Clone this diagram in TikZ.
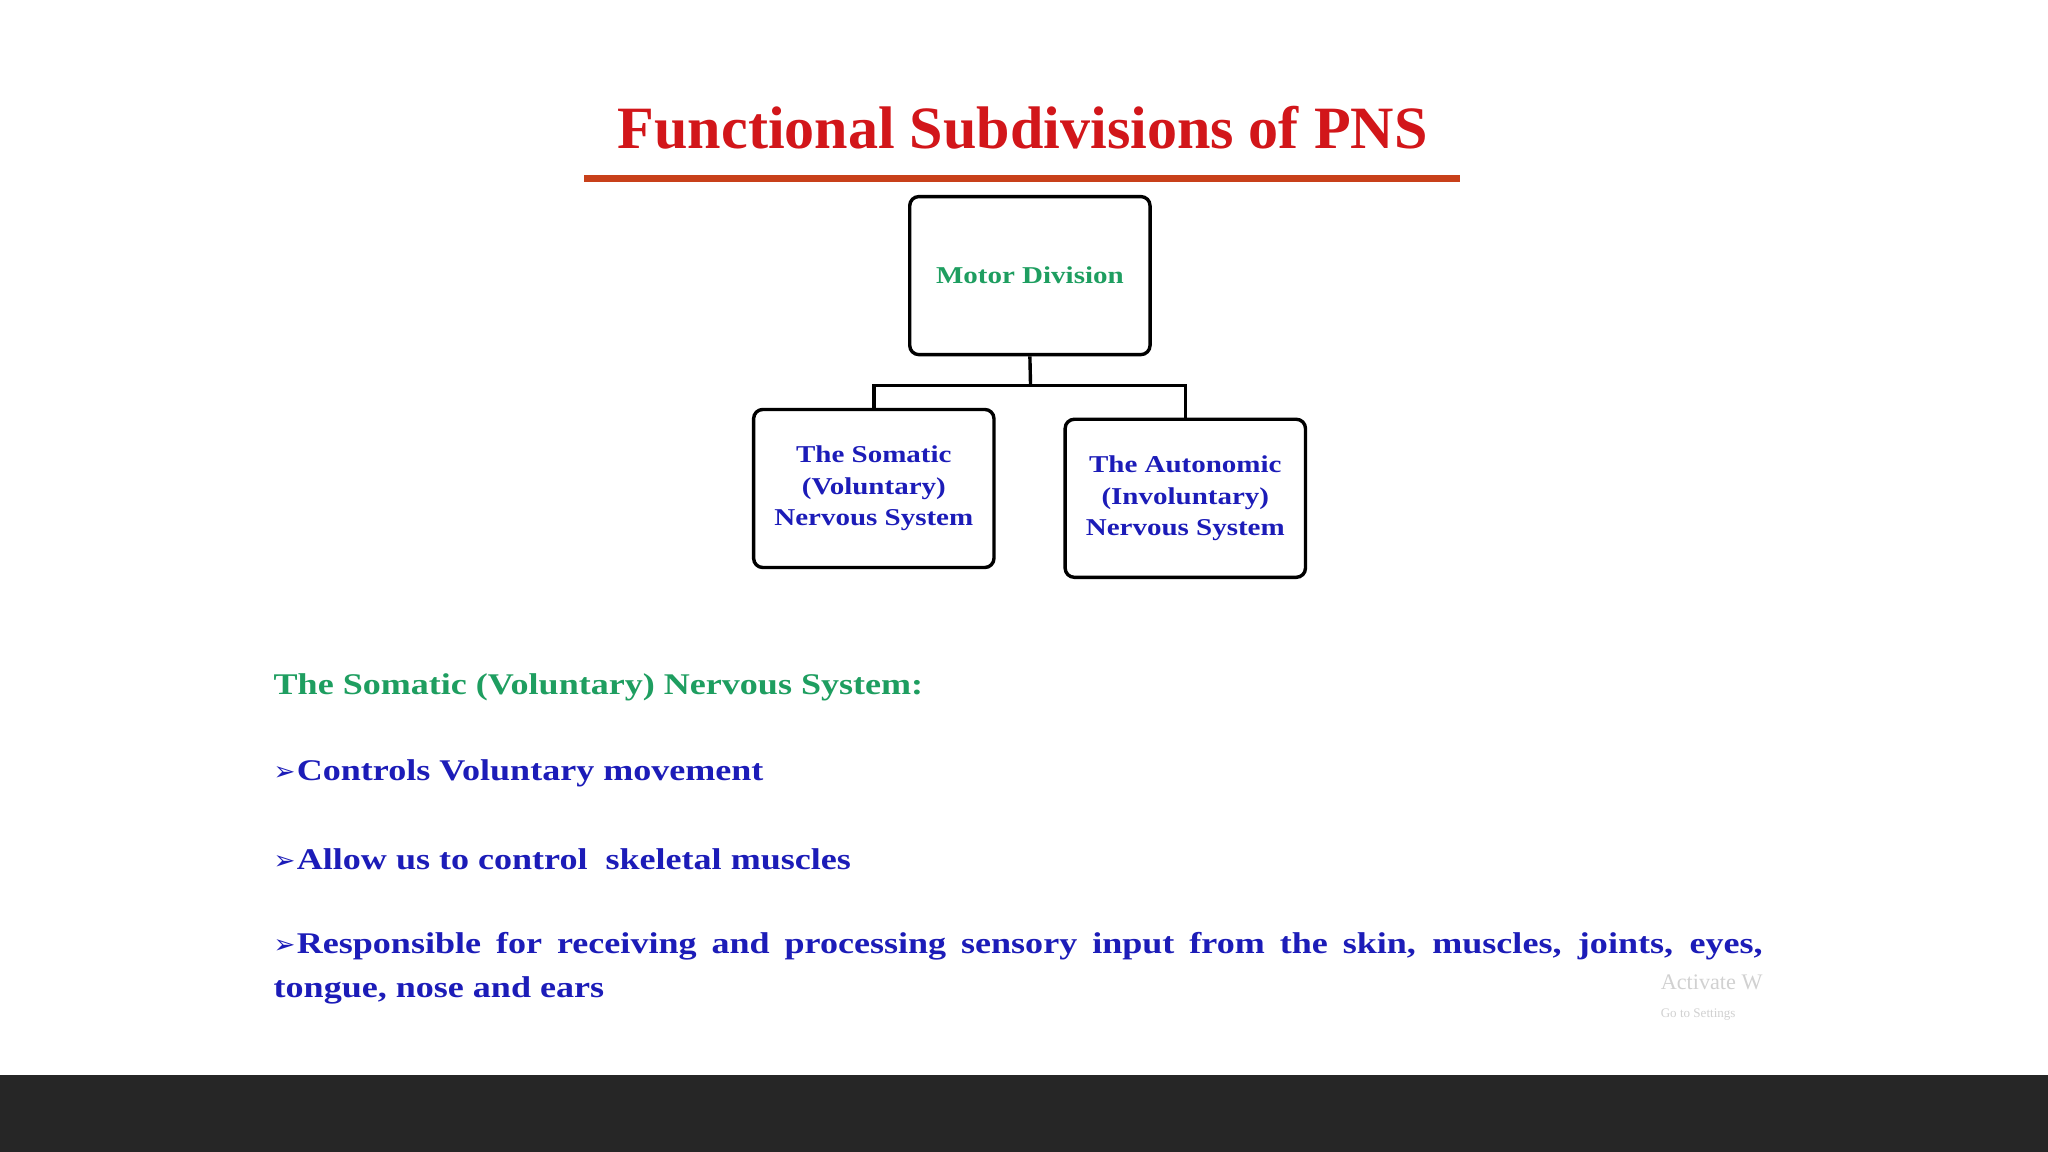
\documentclass[tikz,border=0pt]{standalone}
\usepackage{fontspec}
\setmainfont{Liberation Serif}
\newfontfamily\wide[FakeStretch=1.2]{Liberation Serif}
\newfontfamily\dvs{DejaVu Sans}
\definecolor{ttlred}{HTML}{D2161A}
\definecolor{barred}{HTML}{C8401A}
\definecolor{grn}{HTML}{1E9E60}
\definecolor{blu}{HTML}{1C1CB8}
\definecolor{darkbar}{HTML}{262626}
\newcommand{\arw}{{\dvs\fontsize{20}{20}\selectfont ➢}}
\tikzset{
  box/.style={draw=black, line width=2.6pt, rounded corners=7pt, minimum width=184pt, minimum height=121pt, align=center, font=\wide\bfseries\fontsize{18.5}{24}\selectfont, text=blu},
  conn/.style={draw=black, line width=2.6pt},
  body/.style={anchor=west, font=\wide\bfseries\fontsize{23}{34}\selectfont, text=blu}
}
\begin{document}
\begin{tikzpicture}[x=1pt,y=-1pt]
\useasboundingbox (0,0) rectangle (1568,882);
\fill[white] (0,0) rectangle (1568,882);
\fill[darkbar] (0,823) rectangle (1568,882);
\node (title) at (783,98) {\bfseries\fontsize{46}{50}\selectfont\textcolor{ttlred}{Functional Subdivisions of PNS}};
\fill[barred] (447,134) rectangle (1118,139);
\node[box, text=grn] (motor) at (788.5,211) {Motor Division};
\node[box] (som) at (669,374) {The Somatic\\(Voluntary)\\Nervous System};
\node[box] (aut) at (907.5,381.5) {The Autonomic\\(Involuntary)\\Nervous System};
\coordinate (j) at (789,295);
\draw[conn] (motor.south) -- (j);
\draw[conn] (j) -| (som.north);
\draw[conn] (j) -| (aut.north);
\node[body, text=grn] (h) at (206,526) {The Somatic (Voluntary) Nervous System:};
\node[body] (b1) at (206,592) {\arw\kern1pt Controls Voluntary movement};
\node[body] (b2) at (206,658) {\arw\kern1pt Allow us to control\ \ skeletal muscles};
\node[body, text width=1140pt, align=justify, anchor=north west] (b3) at (206,710) {\arw\kern1pt Responsible for receiving and processing sensory input from the skin, muscles, joints, eyes, tongue, nose and ears};
\node[anchor=west, text=black!18, font=\fontsize{17}{18}\selectfont] (w1) at (1268,752) {Activate W};
\node[anchor=west, text=black!18, font=\fontsize{10}{12}\selectfont] (w2) at (1268,777) {Go to Settings};
\end{tikzpicture}
\end{document}
